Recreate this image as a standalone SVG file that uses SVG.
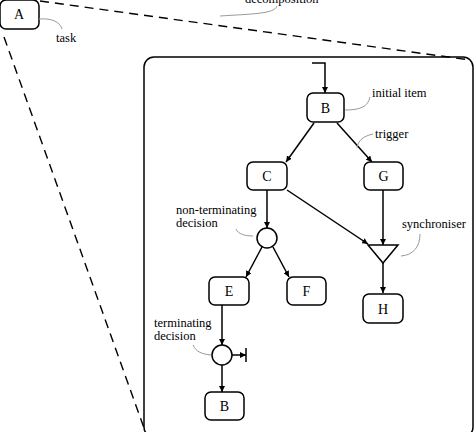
<svg xmlns="http://www.w3.org/2000/svg" width="474" height="432" viewBox="0 0 474 432" font-family="'Liberation Serif','DejaVu Serif',serif">
<style>
.n rect{fill:#fff;stroke:#000;stroke-width:1.5}
.n circle,.n polygon{fill:#fff;stroke:#000;stroke-width:1.5}
.t{font-family:'Liberation Serif','DejaVu Serif',serif;font-size:14px;fill:#000;text-anchor:middle}
.l{font-family:'Liberation Serif','DejaVu Serif',serif;font-size:12.5px;fill:#000}
.c{fill:none;stroke:#000;stroke-width:1.5}
.d{fill:none;stroke:#000;stroke-width:1.4;stroke-dasharray:9,6}
.g{fill:none;stroke:#999;stroke-width:1}
</style>
<defs>
<marker id="ah" viewBox="0 0 10 10" refX="10" refY="5" markerWidth="6" markerHeight="6" markerUnits="userSpaceOnUse" orient="auto"><path d="M0,0L10,5L0,10z" fill="#000"/></marker>
</defs>
<rect width="474" height="432" fill="#fff"/>
<g id="decomposition">
<line class="d" x1="40" y1="1" x2="470" y2="60"/>
<line class="d" x1="4" y1="37" x2="144" y2="428"/>
<path class="g" d="M220,16 C250,14 275,14 277,6"/>
<text class="l" x="245" y="3">decomposition</text>
</g>
<g id="container"><rect x="144" y="57" width="329" height="380" rx="10" fill="none" stroke="#000" stroke-width="1.5"/></g>
<g id="connectors">
<path class="c" d="M312,63H325V93" marker-end="url(#ah)"/>
<line class="c" x1="314" y1="123" x2="286" y2="162" marker-end="url(#ah)"/>
<line class="c" x1="337" y1="123" x2="372" y2="162" marker-end="url(#ah)"/>
<line class="c" x1="267" y1="190" x2="267" y2="228" marker-end="url(#ah)"/>
<line class="c" x1="287" y1="190" x2="368" y2="244" marker-end="url(#ah)"/>
<line class="c" x1="383" y1="190" x2="383" y2="245" marker-end="url(#ah)"/>
<line class="c" x1="383" y1="263" x2="383" y2="293" marker-end="url(#ah)"/>
<line class="c" x1="262" y1="247" x2="246" y2="277" marker-end="url(#ah)"/>
<line class="c" x1="273" y1="247" x2="289" y2="277" marker-end="url(#ah)"/>
<line class="c" x1="222" y1="305" x2="222" y2="345" marker-end="url(#ah)"/>
<line class="c" x1="222" y1="365" x2="222" y2="392" marker-end="url(#ah)"/>
<line class="c" x1="232" y1="355" x2="246" y2="355" marker-end="url(#ah)"/>
<line class="c" x1="246" y1="348" x2="246" y2="362"/>
</g>
<g id="A" class="n"><rect x="0" y="0" width="39" height="29" rx="6"/><text class="t" x="19" y="19">A</text></g>
<g id="taskLabel"><path class="g" d="M39,19 C52,18 60,22 62,29"/><text class="l" x="56" y="42">task</text></g>
<g id="B" class="n"><rect x="307" y="93" width="37" height="29" rx="6"/><text class="t" x="325.5" y="112.5">B</text></g>
<g id="initialLabel"><path class="g" d="M345,110 C360,110 368,107 370,97"/><text class="l" x="372" y="97">initial item</text></g>
<g id="triggerLabel"><path class="g" d="M357,148 C358,140 364,136 373,134"/><text class="l" x="375" y="138">trigger</text></g>
<g id="C" class="n"><rect x="247" y="162" width="40" height="28" rx="6"/><text class="t" x="267" y="181">C</text></g>
<g id="G" class="n"><rect x="364" y="162" width="39" height="28" rx="6"/><text class="t" x="383.5" y="181">G</text></g>
<g id="nonTerminating" class="n"><circle cx="267" cy="238" r="10"/></g>
<g id="nonTermLabel"><path class="g" d="M236,229 C238,234 245,236 253,236"/><text class="l" x="176" y="214">non-terminating</text><text class="l" x="176" y="227">decision</text></g>
<g id="synchroniser" class="n"><polygon points="368,245 398,245 383,263"/></g>
<g id="syncLabel"><path class="g" d="M401,256 C414,255 420,246 420,234"/><text class="l" x="402" y="228">synchroniser</text></g>
<g id="H" class="n"><rect x="363" y="294" width="40" height="29" rx="6"/><text class="t" x="383" y="313.5">H</text></g>
<g id="E" class="n"><rect x="209" y="277" width="40" height="28" rx="6"/><text class="t" x="229" y="296">E</text></g>
<g id="F" class="n"><rect x="287" y="277" width="39" height="28" rx="6"/><text class="t" x="306.5" y="296">F</text></g>
<g id="terminating" class="n"><circle cx="222" cy="355" r="10"/></g>
<g id="termLabel"><path class="g" d="M193,345 C196,352 202,354 211,355"/><text class="l" x="154" y="327">terminating</text><text class="l" x="154" y="340">decision</text></g>
<g id="B2" class="n"><rect x="205" y="392" width="39" height="28" rx="6"/><text class="t" x="224.5" y="411">B</text></g>
</svg>
